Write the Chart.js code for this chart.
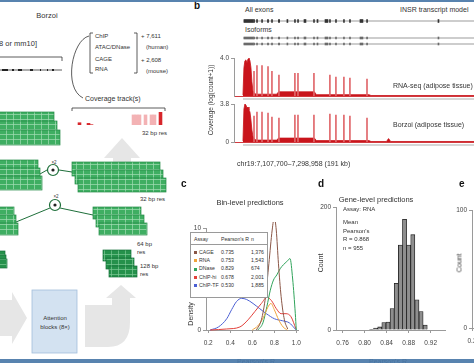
<!DOCTYPE html>
<html>
<head>
<meta charset="utf-8">
<title>Borzoi overview</title>
<script src="https://cdn.jsdelivr.net/npm/chart.js@4.4.1/dist/chart.umd.min.js"></script>
<style>
  html, body { margin: 0; padding: 0; background: #fff; }
  body { width: 474px; height: 363px; overflow: hidden; position: relative;
         font-family: 'Liberation Sans', Arial, sans-serif; color: #333; }
  canvas, svg, .lbl { position: absolute; }
  .lbl { white-space: nowrap; font-size: 7px; line-height: 1; }
  .c { transform: translate(-50%, -50%); }
  .v { transform: translate(-50%, -50%) rotate(-90deg); }
  .m { transform: translateY(-50%); }
  .panel { font-weight: bold; font-size: 10px; color: #111; }
  .title { font-size: 7.5px; color: #333; }
  .band { position: absolute; left: 0; width: 474px; background: rgba(74, 120, 168, 0.92); }
  .gline { position: absolute; height: 2px; background: #d6d6d6; }
  #legend-c { position: absolute; left: 190px; top: 232px; width: 76px; height: 64px;
              background: #fff; border: 1px solid #9a9a9a; font-size: 5.2px; color: #333; }
  #legend-c .row { display: flex; height: 8.2px; align-items: center; padding-left: 3px; white-space: nowrap; }
  #legend-c .hdr { border-bottom: 1px solid #9a9a9a; height: 11px; margin-bottom: 3px; }
  #legend-c .a { width: 27px; }
  #legend-c .r { width: 30px; }
  #legend-c i { display: inline-block; width: 3px; height: 3px; margin-right: 2px; vertical-align: middle; }
</style>
</head>
<body>

<!-- panel a: model diagram -->
<svg id="diagram" width="200" height="363" style="left:0;top:0"></svg>
<canvas id="mini-track" width="93" height="13" style="left:72px;top:112px"></canvas>

<!-- panel b -->
<div class="lbl panel" style="left:194px;top:1px">b</div>
<div class="lbl" style="left:245px;top:6px">All exons</div>
<div class="lbl" style="left:400px;top:6px">INSR transcript model</div>
<div class="lbl" style="left:245px;top:26px">Isoforms</div>
<canvas id="gene-model" width="266" height="34" style="left:234px;top:14px"></canvas>
<canvas id="track-rna" width="300" height="50" style="left:200px;top:52px"></canvas>
<canvas id="track-borzoi" width="300" height="50" style="left:200px;top:98px"></canvas>
<div class="gline" style="left:243px;top:98px;width:231px"></div>
<div class="gline" style="left:243px;top:144px;width:231px"></div>
<div class="lbl m" style="left:393px;top:85px">RNA-seq (adipose tissue)</div>
<div class="lbl m" style="left:393px;top:124px">Borzoi (adipose tissue)</div>
<div class="lbl v" style="left:211px;top:100px;font-size:6.5px">Coverage (log(count+1))</div>
<div class="lbl m" style="left:237px;top:163px">chr19:7,107,700–7,298,958 (191 kb)</div>

<!-- panel c -->
<div class="lbl panel" style="left:181px;top:179px">c</div>
<div class="lbl c title" style="left:250px;top:203px">Bin-level predictions</div>
<canvas id="chart-bins" width="121" height="130" style="left:186px;top:222px"></canvas>
<div class="lbl v" style="left:190px;top:314px">Density</div>
<div id="legend-c"></div>
<div class="lbl c" style="left:256px;top:361px">Pearson's R</div>

<!-- panel d -->
<div class="lbl panel" style="left:318px;top:179px">d</div>
<div class="lbl c title" style="left:376px;top:200px">Gene-level predictions</div>
<canvas id="chart-genes" width="139" height="151" style="left:314px;top:201px"></canvas>
<div class="lbl v" style="left:320px;top:263px">Count</div>
<div class="lbl" style="left:343px;top:205px;font-size:6px;line-height:8.4px">Assay: RNA<br><span style="display:block;height:5px"></span>Mean<br>Pearson's<br>R = 0.868<br>n = 955</div>
<div class="lbl c" style="left:388px;top:361px">Pearson's R</div>

<!-- panel e -->
<div class="lbl panel" style="left:459px;top:179px">e</div>
<canvas id="chart-e" width="90" height="146" style="left:452px;top:204px"></canvas>
<div class="lbl v" style="left:459px;top:263px">Count</div>

<div class="band" style="top:0;height:2px"></div>
<div class="band" style="top:359px;height:4px"></div>

<script>
'use strict';

// ── Data: panel b, INSR locus (kb from window start) ──────────────────────
const geneSpanKb  = [0.5, 186];
const exonStartKb = [0.7, 7.6, 9.7, 13.3, 17.5, 20.4, 25.3, 31.4, 36.8, 39.0, 43.6, 50.4, 52.9, 58.6, 61.8, 66.1, 71.8, 76.1, 83.6, 88.3, 139.3];
const exonEndKb   = [7.4, 8.3, 10.4, 14.0, 18.3, 21.1, 26.2, 32.1, 37.5, 39.7, 45.0, 51.1, 53.6, 60.7, 62.5, 66.8, 72.5, 76.8, 85.7, 89.0, 140.0];

const spikeKb     = [7.9, 10.0, 13.6, 17.9, 20.7, 25.7, 37.1, 39.3, 50.7, 62.1, 66.4, 72.1, 76.4, 88.6];
const rnaSpikeCov = [2.6, 3.2, 3.2, 3.1, 2.6, 2.2, 2.4, 2.4, 2.4, 2.2, 2.0, 2.0, 1.9, 1.8];
const bzSpikeCov  = [2.6, 3.0, 3.0, 2.9, 2.5, 2.4, 2.7, 2.7, 2.7, 2.8, 2.7, 2.7, 2.6, 2.4];

const rnaBodyKb  = [0, 0.7, 1.4, 2.1, 2.9, 3.6, 4.3, 5.0, 5.7, 6.4, 7.1, 8.0, 9.5, 24, 25.5, 51, 52.5, 90, 91.5, 184];
const rnaBodyCov = [0.1, 3.0, 3.7, 3.8, 3.5, 3.9, 4.0, 3.7, 3.0, 1.5, 0.6, 0.3, 0.2, 0.2, 0.45, 0.45, 0.15, 0.15, 0.06, 0.06];
const bzBodyKb   = [0, 0.7, 1.4, 2.1, 2.9, 3.6, 4.3, 5.0, 5.7, 6.4, 7.1, 8.0, 9.5, 24, 25.5, 51, 52.5, 90, 91.5, 102.5, 104, 105.5, 184];
const bzBodyCov  = [0.1, 3.3, 3.8, 3.7, 3.4, 3.5, 3.2, 3.0, 2.2, 1.2, 0.6, 0.3, 0.2, 0.2, 0.4, 0.4, 0.15, 0.15, 0.06, 0.06, 0.35, 0.06, 0.06];

// schematic coverage track in panel a (32 bp bins)
const miniTrack = [0, 0, 0.2, 0, 0, 0.15, 0.05, 0, 0, 0, 0, 0, 0, 0, 0, 0, 0, 0, 0, 0, 0.8, 0.8, 0.8, 0, 0.8, 0, 0.8, 0.8, 0, 1.0, 0];

// ── Data: panel c, density of per-track Pearson's R ───────────────────────
const assayNames  = ['CAGE', 'RNA', 'DNase', 'ChIP-hi', 'ChIP-TF'];
const assayR      = ['0.735', '0.753', '0.829', '0.678', '0.530'];
const assayN      = ['1,376', '1,543', '674', '2,001', '1,885'];
const assayColors = ['#8a5646', '#f0a33a', '#2fa35a', '#e2403a', '#4b5fd3'];

const cageR  = [0.638, 0.683, 0.721, 0.751, 0.781, 0.800, 0.818, 0.838, 0.862, 0.892, 0.922];
const cageD  = [0, 1.0, 3.3, 6.5, 9.8, 11.0, 9.8, 6.5, 3.3, 1.0, 0.1];
const rnaR   = [0.60, 0.65, 0.70, 0.74, 0.77, 0.80, 0.84, 0.88, 0.92];
const rnaD   = [0, 0.4, 1.2, 2.2, 2.6, 2.0, 1.0, 0.3, 0];
const dnaseR = [0.652, 0.697, 0.733, 0.764, 0.793, 0.823, 0.853, 0.883, 0.913, 0.943, 0.967, 0.991, 1.0];
const dnaseD = [0, 0.7, 2.3, 3.9, 4.9, 5.4, 6.0, 6.4, 6.7, 7.0, 5.0, 1.6, 0];
const histR  = [0.218, 0.368, 0.488, 0.562, 0.623, 0.683, 0.733, 0.773, 0.818, 0.862, 0.907, 0.952, 0.997];
const histD  = [0, 0.1, 0.3, 1.0, 1.8, 2.6, 3.2, 2.9, 2.1, 1.6, 1.6, 1.3, 0.1];
const tfR    = [0.218, 0.293, 0.368, 0.413, 0.458, 0.503, 0.548, 0.607, 0.667, 0.728, 0.802, 0.877, 0.937, 0.982, 1.0];
const tfD    = [0, 0.3, 1.1, 2.0, 2.8, 3.1, 3.0, 2.6, 2.1, 1.6, 1.1, 0.9, 0.7, 0.2, 0];
const binTicks = [0.2, 0.4, 0.6, 0.8, 1.0];

// ── Data: panel d, gene-level histogram ───────────────────────────────────
const geneBinCenters = [0.8125, 0.82, 0.8275, 0.835, 0.8425, 0.85, 0.8575, 0.865, 0.8725, 0.88, 0.8875, 0.895, 0.9025, 0.91];
const geneCounts     = [1, 3, 5, 12, 13, 35, 76, 138, 180, 138, 155, 49, 30, 8];
const geneTicks      = [0.76, 0.80, 0.84, 0.88, 0.92];

// ── Chart defaults ────────────────────────────────────────────────────────
Chart.defaults.font.family = "'Liberation Sans', Arial, sans-serif";
Chart.defaults.font.size = 6.5;
Chart.defaults.color = '#444';
Chart.defaults.animation = false;
Chart.defaults.responsive = false;
Chart.defaults.plugins.legend.display = false;
Chart.defaults.plugins.tooltip.enabled = false;

const AXIS   = '#9a9a9a';
const KB_MIN = -6.4;
const KB_MAX = 183.6;

const fixedTicks = values => scale => { scale.ticks = values.map(v => ({ value: v })); };
const pts = (xs, ys) => xs.map((x, i) => ({ x, y: ys[i] }));

// ── Panel b: gene model ───────────────────────────────────────────────────
const rowAll = 7, rowIso1 = 24, rowIso2 = 30;
new Chart(document.getElementById('gene-model'), {
  type: 'bar',
  data: {
    datasets: [
      { data: exonStartKb.map((s, i) => ({ x: [s, exonEndKb[i]], y: rowAll })), backgroundColor: '#333', barThickness: 3, grouped: false, order: 0 },
      { data: exonStartKb.map((s, i) => ({ x: [s, exonEndKb[i]], y: rowIso1 })), backgroundColor: '#6a6a6a', barThickness: 2, grouped: false, order: 0 },
      { data: exonStartKb.map((s, i) => ({ x: [s, exonEndKb[i]], y: rowIso2 })), backgroundColor: '#6a6a6a', barThickness: 2, grouped: false, order: 0 },
      { data: [rowAll, rowIso1, rowIso2].map(y => ({ x: geneSpanKb, y })), backgroundColor: '#bdbdbd', barThickness: 1, grouped: false, order: 1 },
    ],
  },
  options: {
    indexAxis: 'y',
    layout: { padding: 0 },
    scales: {
      x: { type: 'linear', display: false, min: KB_MIN, max: KB_MAX, offset: false },
      y: { type: 'linear', display: false, min: 0, max: 34, reverse: true, offset: false },
    },
  },
});

// ── Panel b: coverage tracks ──────────────────────────────────────────────
function trackChart(id, bodyKb, bodyCov, spikeCov, yMax, yTicks) {
  return new Chart(document.getElementById(id), {
    type: 'bar',
    data: {
      datasets: [
        { type: 'bar', data: pts(spikeKb, spikeCov), backgroundColor: '#e0676b', barThickness: 1, grouped: false },
        { type: 'line', data: pts(bodyKb, bodyCov), borderColor: '#c9151c', borderWidth: 0.8,
          backgroundColor: '#c9151c', fill: 'origin', pointRadius: 0 },
      ],
    },
    options: {
      layout: { padding: { top: 6, bottom: 5, left: 0, right: 0 } },
      scales: {
        x: { type: 'linear', min: KB_MIN, max: KB_MAX, offset: false,
             ticks: { display: false }, grid: { display: false }, border: { color: '#d23a3f' },
             afterFit: s => { s.height = 0; } },
        y: { min: 0, max: yMax, afterBuildTicks: fixedTicks(yTicks), afterFit: s => { s.width = 34; },
             ticks: { padding: 2, callback: v => (v ? v.toFixed(1) : '0') },
             grid: { drawOnChartArea: false, tickLength: 3, color: AXIS }, border: { color: AXIS } },
      },
    },
  });
}
trackChart('track-rna', rnaBodyKb, rnaBodyCov, rnaSpikeCov, 4.0, [4.0]);
trackChart('track-borzoi', bzBodyKb, bzBodyCov, bzSpikeCov, 3.8, [0, 3.8]);

// ── Panel a: schematic coverage track ─────────────────────────────────────
new Chart(document.getElementById('mini-track'), {
  type: 'bar',
  data: {
    labels: miniTrack.map((_, i) => i),
    datasets: [{
      data: miniTrack,
      backgroundColor: ctx => (ctx.raw >= 1 || ctx.raw < 0.5 ? '#d7262b' : '#f3b2b4'),
      barPercentage: 1, categoryPercentage: 1.2,
    }],
  },
  options: {
    layout: { padding: 0 },
    scales: {
      x: { ticks: { display: false }, grid: { display: false }, border: { color: '#bbb' }, afterFit: s => { s.height = 0; } },
      y: { display: false, min: 0, max: 1 },
    },
  },
});

// ── Panel c: bin-level density ────────────────────────────────────────────
const curves = [
  [cageR, cageD], [rnaR, rnaD], [dnaseR, dnaseD], [histR, histD], [tfR, tfD],
];
new Chart(document.getElementById('chart-bins'), {
  type: 'line',
  data: {
    datasets: curves.map(([xs, ys], i) => ({
      data: pts(xs, ys), borderColor: assayColors[i], borderWidth: 1,
      pointRadius: 0, cubicInterpolationMode: 'monotone', clip: false,
    })),
  },
  options: {
    layout: { padding: { top: 6, right: 8, bottom: 0, left: 0 } },
    scales: {
      x: { type: 'linear', min: 0.18, max: 1.02, afterBuildTicks: fixedTicks(binTicks),
           afterFit: s => { s.height = 22; },
           ticks: { padding: 6, callback: v => v.toFixed(1) },
           grid: { drawOnChartArea: false, tickLength: 3, color: AXIS }, border: { color: AXIS } },
      y: { min: 0, max: 10, afterBuildTicks: fixedTicks([0, 5, 10]), afterFit: s => { s.width = 20; },
           ticks: { padding: 2 },
           grid: { drawOnChartArea: false, tickLength: 3, color: AXIS }, border: { color: AXIS } },
    },
  },
});

// legend table for panel c
const legend = document.getElementById('legend-c');
legend.innerHTML =
  '<div class="row hdr"><span class="a">Assay</span><span class="r">Pearson\'s R</span><span>n</span></div>' +
  assayNames.map((name, i) =>
    `<div class="row"><span class="a"><i style="background:${assayColors[i]}"></i>${name}</span>` +
    `<span class="r">${assayR[i]}</span><span>${assayN[i]}</span></div>`).join('');

// ── Panel d: gene-level histogram ─────────────────────────────────────────
new Chart(document.getElementById('chart-genes'), {
  type: 'bar',
  data: {
    datasets: [{
      data: pts(geneBinCenters, geneCounts),
      backgroundColor: '#8e8e8e', borderColor: '#1c1c1c', borderWidth: 0.8,
      barPercentage: 1, categoryPercentage: 1,
    }],
  },
  options: {
    layout: { padding: { top: 6, right: 8, bottom: 0, left: 0 } },
    scales: {
      x: { type: 'linear', min: 0.748, max: 0.946, offset: false, afterBuildTicks: fixedTicks(geneTicks),
           afterFit: s => { s.height = 22; },
           ticks: { padding: 6, callback: v => v.toFixed(2) },
           grid: { offset: false, drawOnChartArea: false, tickLength: 3, color: AXIS }, border: { color: AXIS } },
      y: { min: 0, max: 200, afterBuildTicks: fixedTicks([0, 200]), afterFit: s => { s.width = 22; },
           ticks: { padding: 2 },
           grid: { drawOnChartArea: false, tickLength: 3, color: AXIS }, border: { color: AXIS } },
    },
  },
});

// ── Panel e: axes only (rest of panel is outside the frame) ───────────────
new Chart(document.getElementById('chart-e'), {
  type: 'line',
  data: { datasets: [{ data: [] }] },
  options: {
    layout: { padding: { top: 6, right: 8, bottom: 0, left: 0 } },
    scales: {
      x: { type: 'linear', min: 0.2, max: 1.0, afterBuildTicks: fixedTicks(binTicks),
           afterFit: s => { s.height = 22; },
           ticks: { padding: 6, callback: v => v.toFixed(1) },
           grid: { drawOnChartArea: false, tickLength: 3, color: AXIS }, border: { color: AXIS } },
      y: { min: 0, max: 100, afterBuildTicks: fixedTicks([0, 100]), afterFit: s => { s.width = 20; },
           ticks: { padding: 2 },
           grid: { drawOnChartArea: false, tickLength: 3, color: AXIS }, border: { color: AXIS } },
    },
  },
});

// ── Panel a: model schematic ──────────────────────────────────────────────
// block stacks: x, y, w, h, dx, dy, dark
const stacks = [
  [-8, 112, 62, 15, 3, 9, false],
  [-10, 160, 48, 14, 2, 8, false],
  [72, 162, 88, 14, 3, 8, false],
  [-10, 207, 24, 12, 2, 8, false],
  [93, 207, 48, 12, 3, 8, false],
  [-10, 251, 15, 9, 1, 4, true],
  [103, 250, 28, 11, 3, 8, true],
];

function stackSvg([x, y, w, h, dx, dy, dark]) {
  let s = '';
  for (let k = 0; k < 3; k++) {
    s += `<rect x="${x + k * dx}" y="${y + k * dy}" width="${w}" height="${h}" fill="url(#${dark ? 'cellDark' : 'cell'})" stroke="${dark ? '#16703a' : '#238a47'}" stroke-width="0.7"/>`;
  }
  return s;
}

const T = (x, y, txt, size = 6.5, anchor = 'start') =>
  `<text x="${x}" y="${y}" font-size="${size}" text-anchor="${anchor}">${txt}</text>`;

document.getElementById('diagram').innerHTML = `
  <defs>
    <pattern id="cell" width="7" height="5" patternUnits="userSpaceOnUse">
      <rect width="7" height="5" fill="#3fae62"/>
      <path d="M6.5 0V5M0 4.5H7" stroke="#a3ddb4" stroke-width="0.7"/>
    </pattern>
    <pattern id="cellDark" width="7" height="5" patternUnits="userSpaceOnUse">
      <rect width="7" height="5" fill="#25914b"/>
      <path d="M6.5 0V5M0 4.5H7" stroke="#7cc895" stroke-width="0.7"/>
    </pattern>
  </defs>
  <g fill="#e6e6e6">
    <path d="M122 138 L140 158 L131 158 L131 166 L113 166 L113 158 L104 158 Z"/>
    <path d="M-5 300 H12 V292 L27 318 L12 344 V336 H-5 Z"/>
    <path d="M85 305 H112 V298 H106 L121 285 L136 298 H130 V322 Q130 347 108 347 H85 Z"/>
  </g>
  <rect x="32" y="290" width="45" height="63" fill="#d3e2f1" stroke="#a3bedb" stroke-width="0.8"/>
  ${stacks.map(stackSvg).join('')}
  <g stroke="#1e6f3a" stroke-width="1" fill="none">
    <path d="M40 174 L47 170 M59 170 L72 172"/>
    <path d="M50 208 L16 222 M60 208 L93 215"/>
  </g>
  <g stroke="#1e6f3a" stroke-width="1.2" fill="#fff">
    <circle cx="53" cy="170" r="5.5"/><circle cx="55" cy="205" r="5.5"/>
  </g>
  <g fill="#222"><circle cx="53" cy="170" r="1.6"/><circle cx="55" cy="205" r="1.6"/></g>
  <g stroke="#333" stroke-width="0.8" fill="none">
    <path d="M-5 57 H62 V61"/>
    <path d="M0 70 H62"/>
    <path d="M89 36 C72 40 63 88 83 98"/>
    <path d="M93 33 H90 V73 H93 M134 33 H137 V73 H134"/>
    <path d="M72 111 V108 H165 V111"/>
  </g>
  <g stroke="#222" stroke-width="2.2">
    <path d="M2 70 H8 M12 70 H14 M18 70 H22 M30 70 H33 M40 70 H41 M47 70 H48 M52 70 H54"/>
  </g>
  <g font-family="'Liberation Sans', Arial, sans-serif" fill="#333">
    ${T(47, 18, 'Borzoi', 7.5, 'middle')}
    ${T(37, 46, '[hg38 or mm10]', 7.5, 'end')}
    ${T(95, 38, 'ChIP', 6)}${T(95, 49, 'ATAC/DNase', 6)}${T(95, 61, 'CAGE', 6)}${T(95, 71, 'RNA', 6)}
    ${T(141, 38, '+ 7,611', 6)}${T(146, 49, '(human)', 6)}${T(141, 62, '+ 2,608', 6)}${T(146, 73, '(mouse)', 6)}
    ${T(85, 101, 'Coverage track(s)', 7)}
    ${T(167, 135, '32 bp res', 6, 'end')}
    ${T(165, 201, '32 bp res', 6, 'end')}
    ${T(137, 246, '64 bp', 6)}${T(137, 254, 'res', 6)}
    ${T(140, 268, '128 bp', 6)}${T(140, 276, 'res', 6)}
    ${T(54, 164, '×2', 4.5, 'middle')}${T(56, 198, '×2', 4.5, 'middle')}
    ${T(55, 320, 'Attention', 6, 'middle')}${T(55, 329, 'blocks (8×)', 6, 'middle')}
  </g>`;
</script>
</body>
</html>
